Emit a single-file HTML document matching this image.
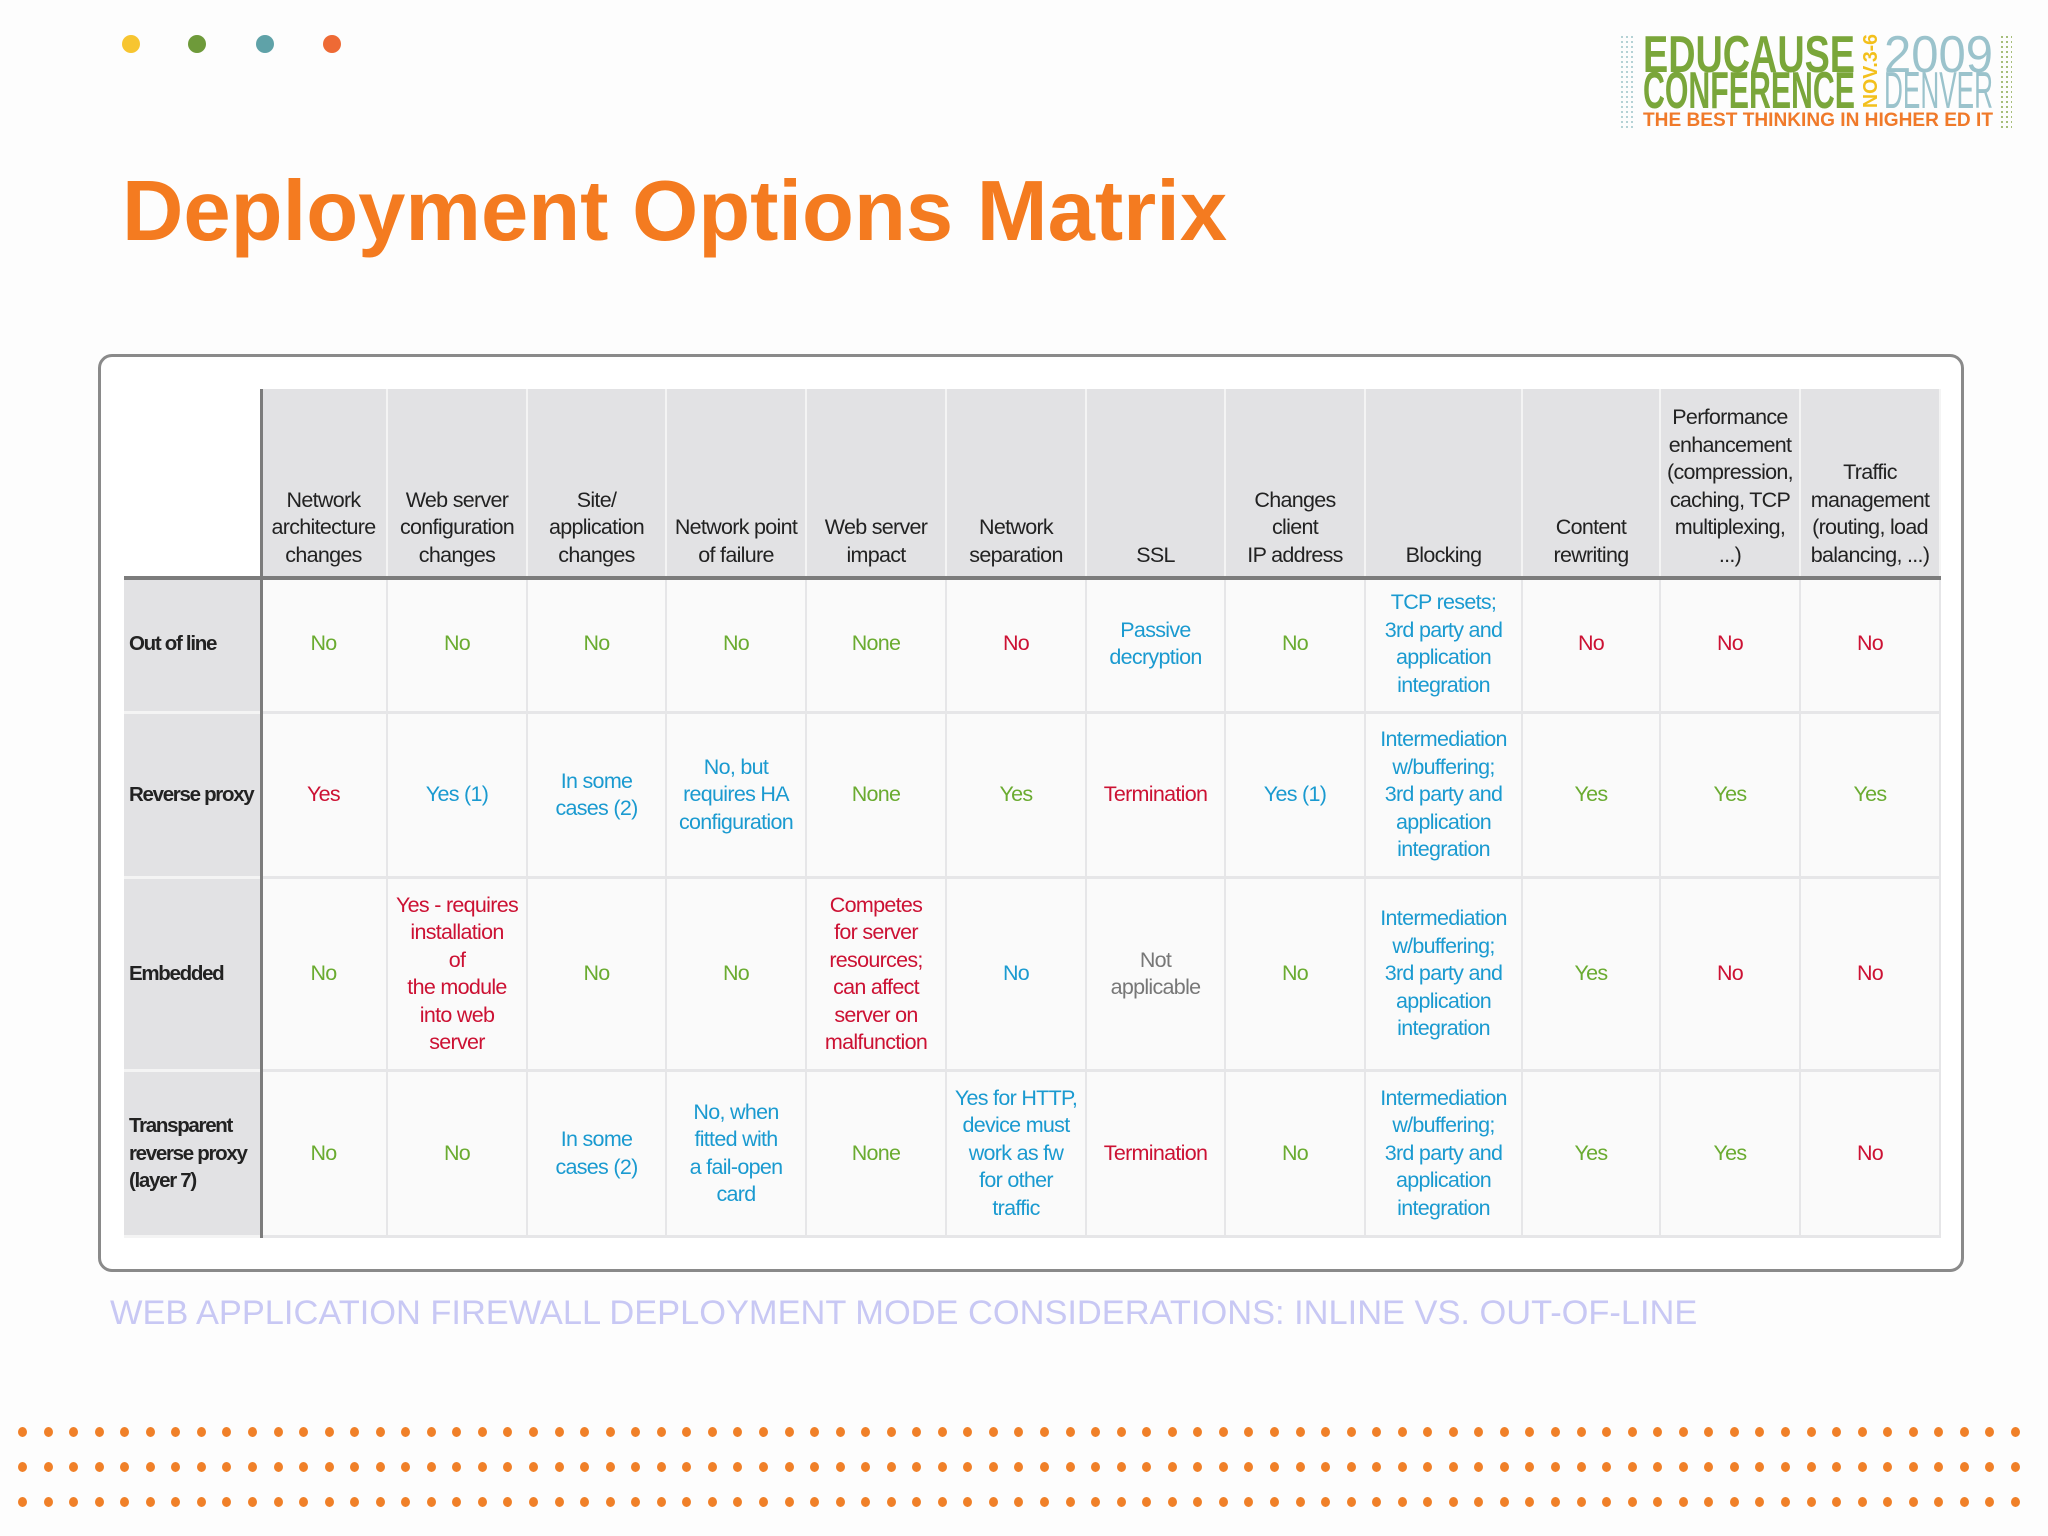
<!DOCTYPE html>
<html><head><meta charset="utf-8">
<style>
body{margin:0;width:2048px;height:1536px;background:#fdfdfd;position:relative;overflow:hidden;font-family:"Liberation Sans",sans-serif}
.abs{position:absolute}
.cell{position:absolute;display:flex;align-items:center;justify-content:center;text-align:center;font-family:"Liberation Sans",sans-serif;font-size:21.5px;letter-spacing:-0.7px;line-height:27.5px;box-sizing:border-box;white-space:nowrap}
.hd{align-items:flex-end;padding-bottom:8px;color:#222;background:#e2e2e4}
.rh{justify-content:flex-start;padding-left:5px;text-align:left;color:#222;background:#e2e2e4;font-weight:bold;letter-spacing:-1.3px;font-size:20.5px}
.g{color:#6aab30}.r{color:#cc1133}.b{color:#1a9ad0}.k{color:#777}
</style></head><body>
<div class="abs" style="left:122px;top:163px;font-size:85px;font-weight:bold;color:#f47b20;white-space:nowrap">Deployment Options Matrix</div>
<svg class="abs" style="left:1600px;top:20px" width="440" height="120" viewBox="1600 20 440 120">
 <defs><pattern id="dp" width="5" height="5" patternUnits="userSpaceOnUse"><circle cx="2" cy="2" r="1" fill="#9cc4c8"/></pattern>
 <pattern id="dp2" width="5" height="5" patternUnits="userSpaceOnUse"><circle cx="2" cy="2" r="1" fill="#8aaa50"/></pattern></defs>
 <rect x="1621" y="34" width="12" height="94" fill="url(#dp)"/>
 <rect x="2000" y="34" width="12" height="94" fill="url(#dp2)"/>
 <g font-family="Liberation Sans" font-weight="bold">
 <text x="1643" y="72" font-size="52" fill="#7aa63a" textLength="212" lengthAdjust="spacingAndGlyphs">EDUCAUSE</text>
 <text x="1643" y="108" font-size="52" fill="#7aa63a" textLength="212" lengthAdjust="spacingAndGlyphs">CONFERENCE</text>
 <text x="1884" y="72" font-size="52" fill="#9bc3cc" textLength="109" lengthAdjust="spacingAndGlyphs" font-weight="normal">2009</text>
 <text x="1884" y="108" font-size="52" fill="#9bc3cc" textLength="109" lengthAdjust="spacingAndGlyphs" font-weight="normal">DENVER</text>
 <text x="1643" y="126" font-size="19" fill="#f07a2a" textLength="350" lengthAdjust="spacingAndGlyphs">THE BEST THINKING IN HIGHER ED IT</text>
 <text transform="translate(1877,108) rotate(-90)" font-size="20" fill="#f3c01c" textLength="74" lengthAdjust="spacingAndGlyphs">NOV.3-6</text>
 </g>
</svg>
<div id="dots"></div>
<div class="abs" style="left:98px;top:354px;width:1866px;height:918px;border:3px solid #8a8a8a;border-radius:14px;background:#fff;box-sizing:border-box"></div>
<div id="tbl"></div>
<div class="abs" style="left:110px;top:1294px;font-size:34.4px;color:#c8c8f4;white-space:nowrap">WEB APPLICATION FIREWALL DEPLOYMENT MODE CONSIDERATIONS: INLINE VS. OUT-OF-LINE</div>
<script>
const colX=[124,261,388,528,667,807,947,1087,1226,1366,1523,1661,1801,1941];
const rowY=[389,577,714,879,1072,1238];
const headers=["Network<br>architecture<br>changes","Web server<br>configuration<br>changes","Site/<br>application<br>changes","Network point<br>of failure","Web server<br>impact","Network<br>separation","SSL","Changes<br>client<br>IP address","Blocking","Content<br>rewriting","Performance<br>enhancement<br>(compression,<br>caching, TCP<br>multiplexing,<br>...)","Traffic<br>management<br>(routing, load<br>balancing, ...)"];
const rowsLbl=["Out of line","Reverse proxy","Embedded","Transparent<br>reverse proxy<br>(layer 7)"];
const BL="Intermediation<br>w/buffering;<br>3rd party and<br>application<br>integration";
const cells=[
[["No","g"],["No","g"],["No","g"],["No","g"],["None","g"],["No","r"],["Passive<br>decryption","b"],["No","g"],["TCP resets;<br>3rd party and<br>application<br>integration","b"],["No","r"],["No","r"],["No","r"]],
[["Yes","r"],["Yes (1)","b"],["In some<br>cases (2)","b"],["No, but<br>requires HA<br>configuration","b"],["None","g"],["Yes","g"],["Termination","r"],["Yes (1)","b"],[BL,"b"],["Yes","g"],["Yes","g"],["Yes","g"]],
[["No","g"],["Yes - requires<br>installation<br>of<br>the module<br>into web<br>server","r"],["No","g"],["No","g"],["Competes<br>for server<br>resources;<br>can affect<br>server on<br>malfunction","r"],["No","b"],["Not<br>applicable","k"],["No","g"],[BL,"b"],["Yes","g"],["No","r"],["No","r"]],
[["No","g"],["No","g"],["In some<br>cases (2)","b"],["No, when<br>fitted with<br>a fail-open<br>card","b"],["None","g"],["Yes for HTTP,<br>device must<br>work as fw<br>for other<br>traffic","b"],["Termination","r"],["No","g"],[BL,"b"],["Yes","g"],["Yes","g"],["No","r"]]
];
const T=document.getElementById('tbl');
function mk(x,y,w,h,cls,html){const d=document.createElement('div');d.className='cell '+cls;d.style.left=x+'px';d.style.top=y+'px';d.style.width=w+'px';d.style.height=h+'px';d.innerHTML=html;T.appendChild(d);return d;}
for(let c=0;c<12;c++){const d=mk(colX[c+1],rowY[0],colX[c+2]-colX[c+1],rowY[1]-rowY[0],'hd',headers[c]);d.style.borderRight='2px solid #f4f4f4';

}
for(let r=0;r<4;r++){const d=mk(colX[0],rowY[r+1],colX[1]-colX[0],rowY[r+2]-rowY[r+1],'rh',rowsLbl[r]);d.style.borderBottom='3px solid #f4f4f4';


for(let c=0;c<12;c++){const v=cells[r][c];const e=mk(colX[c+1],rowY[r+1],colX[c+2]-colX[c+1],rowY[r+2]-rowY[r+1],v[1],v[0]);e.style.background='#fafafa';e.style.borderRight='2px solid #e6e6e8';e.style.borderBottom='3px solid #e6e6e8';

}}
const hl=document.createElement('div');hl.className='abs';hl.style.cssText='left:124px;top:576px;width:1817px;height:4px;background:#7c7c7c';


T.appendChild(hl);
const vl=document.createElement('div');vl.className='abs';vl.style.cssText='left:260px;top:389px;width:3px;height:849px;background:#7c7c7c';


T.appendChild(vl);
const D=document.getElementById('dots');
const topCols=['#f7c531','#6e9a3a','#5fa2a8','#ee6a35'];const topX=[131,197,265,332];
for(let i=0;i<4;i++){const d=document.createElement('div');d.className='abs';d.style.cssText=`left:${topX[i]-9}px;top:35px;width:18px;height:18px;border-radius:50%;background:${topCols[i]}`;


D.appendChild(d);}
for(const y of [1432,1467,1502]){for(let x=22.5;x<2040;x+=25.55){const d=document.createElement('div');d.className='abs';d.style.cssText=`left:${x-4.5}px;top:${y-5}px;width:9px;height:10px;border-radius:50%;background:#f08028`;


D.appendChild(d);}}
</script>
</body></html>
